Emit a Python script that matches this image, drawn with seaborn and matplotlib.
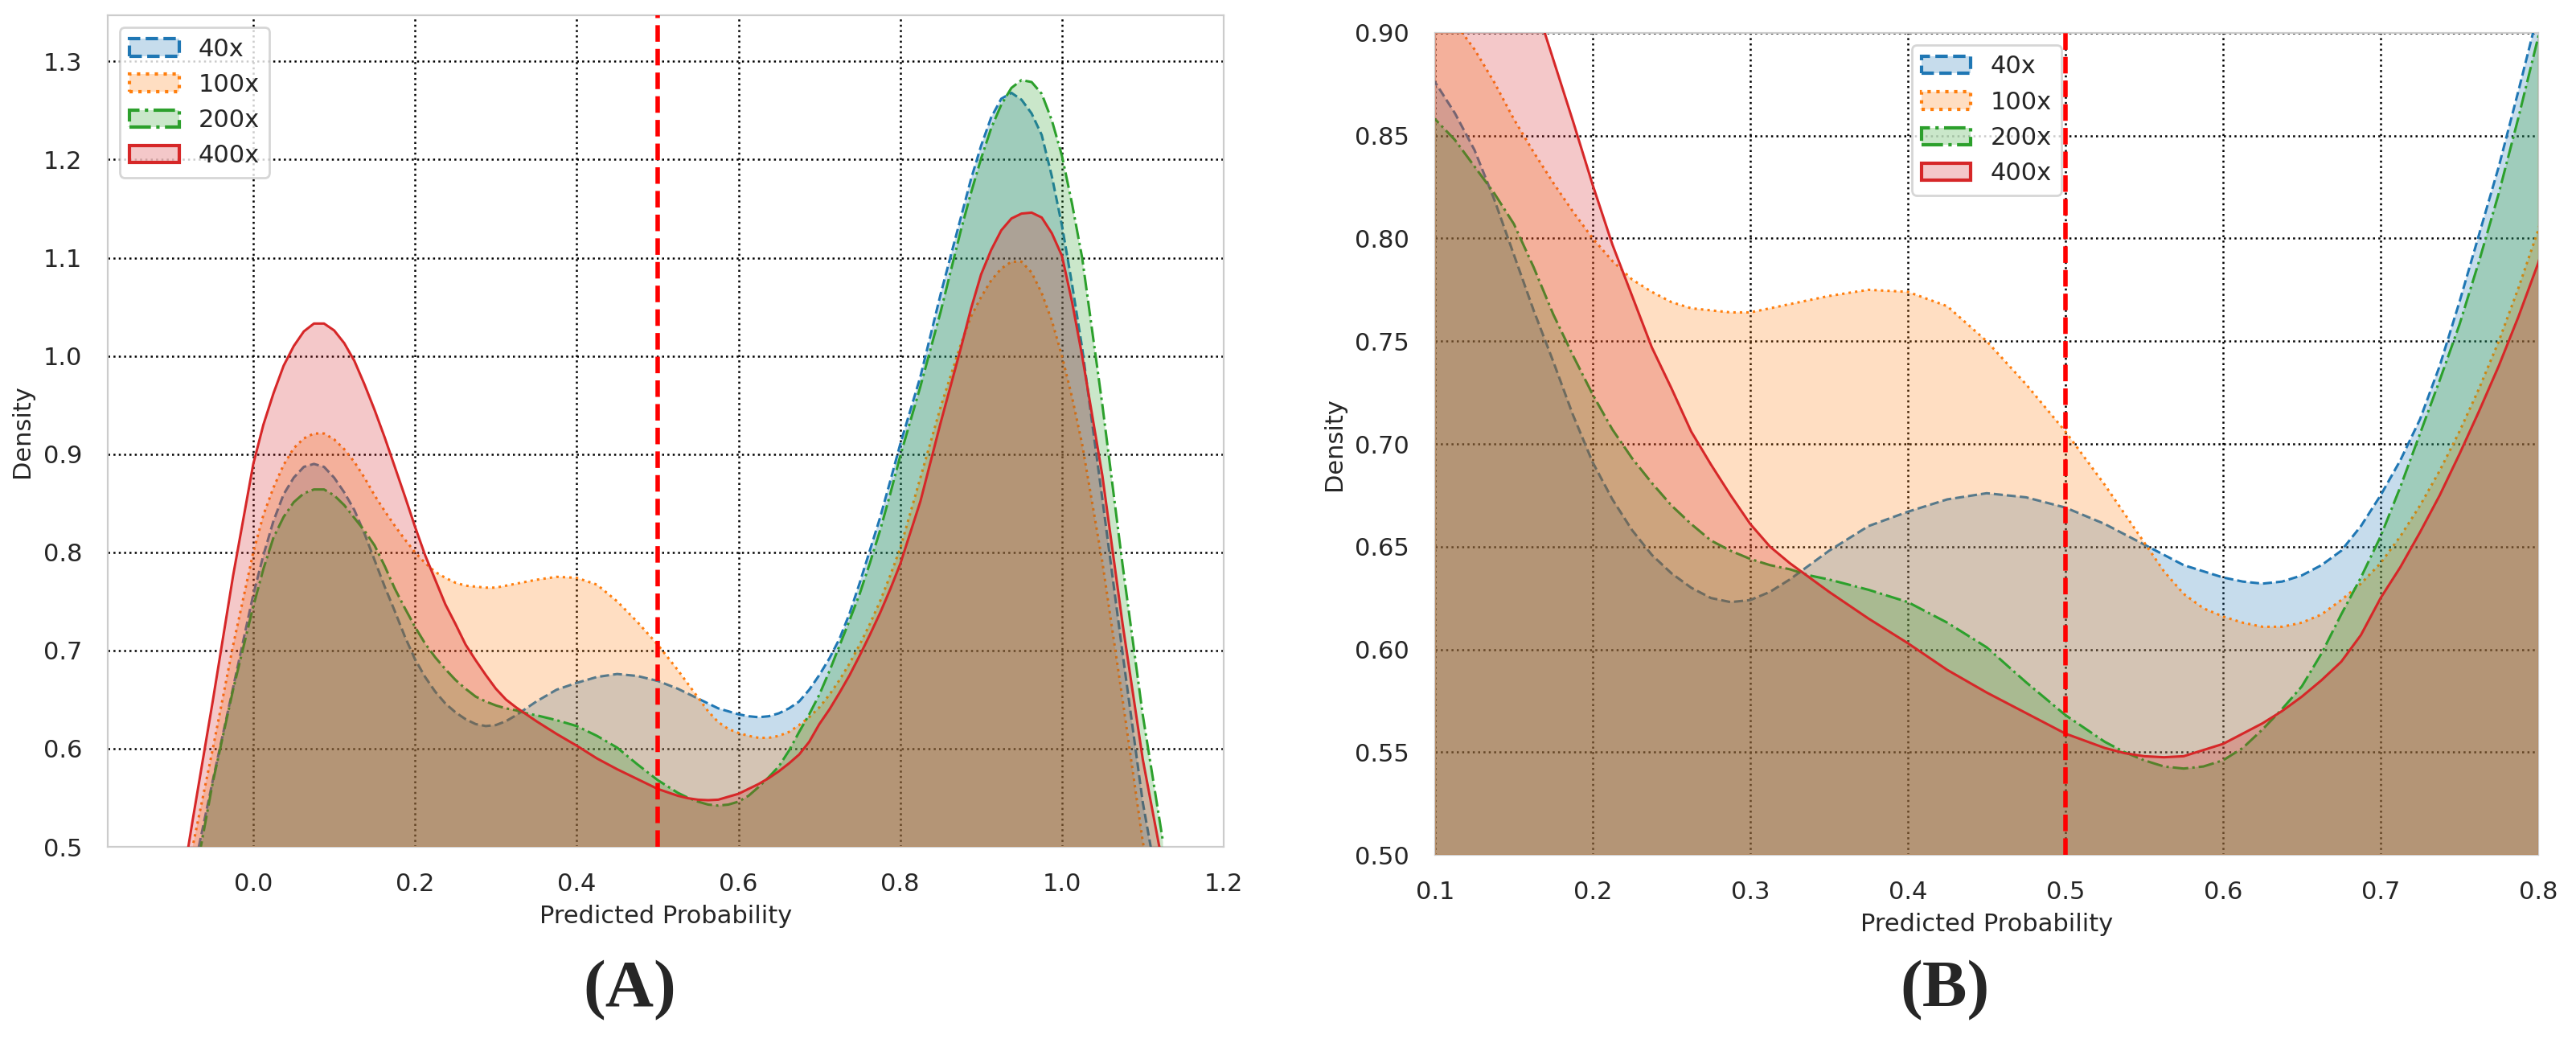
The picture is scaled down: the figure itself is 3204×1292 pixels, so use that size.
import matplotlib
matplotlib.use("Agg")
import matplotlib.pyplot as plt
import numpy as np
import pandas as pd
import seaborn as sns
from matplotlib.patches import Patch
from matplotlib.colors import to_rgba

# ---------------- data ----------------
prob = [-0.1, -0.075, -0.05, -0.025, 0.0, 0.0125, 0.025, 0.0375, 0.05, 0.0625,
        0.075, 0.0875, 0.1, 0.1125, 0.125, 0.1375, 0.15, 0.1625, 0.175, 0.1875,
        0.2, 0.2125, 0.225, 0.2375, 0.25, 0.2625, 0.275, 0.2875, 0.3, 0.3125,
        0.325, 0.3375, 0.35, 0.375, 0.4, 0.425, 0.45, 0.475, 0.5, 0.525,
        0.5375, 0.55, 0.5625, 0.575, 0.5875, 0.6, 0.6125, 0.625, 0.6375, 0.65,
        0.6625, 0.675, 0.6875, 0.7, 0.7125, 0.725, 0.7375, 0.75, 0.7625, 0.775,
        0.7875, 0.8, 0.825, 0.85, 0.875, 0.8875, 0.9, 0.9125, 0.925, 0.9375,
        0.95, 0.9625, 0.975, 0.9875, 1.0, 1.0125, 1.025, 1.05, 1.075, 1.1,
        1.125]

dens_40x = [0.37, 0.47, 0.568, 0.662, 0.757, 0.797, 0.832, 0.859, 0.876, 0.887,
            0.890, 0.887, 0.876, 0.861, 0.843, 0.819, 0.792, 0.765, 0.740, 0.714,
            0.691, 0.673, 0.658, 0.646, 0.637, 0.630, 0.625, 0.623, 0.624, 0.628,
            0.634, 0.641, 0.648, 0.660, 0.667, 0.673, 0.676, 0.674, 0.669, 0.661,
            0.656, 0.651, 0.646, 0.641, 0.638, 0.635, 0.633, 0.632, 0.633, 0.636,
            0.641, 0.648, 0.660, 0.675, 0.692, 0.712, 0.738, 0.769, 0.802, 0.835,
            0.872, 0.910, 0.979, 1.063, 1.141, 1.180, 1.214, 1.243, 1.262, 1.268,
            1.261, 1.247, 1.225, 1.183, 1.133, 1.073, 1.008, 0.854, 0.697, 0.545,
            0.43]

dens_100x = [0.40, 0.50, 0.60, 0.705, 0.80, 0.838, 0.866, 0.889, 0.906, 0.916,
             0.921, 0.921, 0.915, 0.905, 0.892, 0.876, 0.858, 0.842, 0.827, 0.813,
             0.800, 0.789, 0.780, 0.774, 0.769, 0.766, 0.765, 0.764, 0.764, 0.766,
             0.768, 0.770, 0.772, 0.775, 0.774, 0.767, 0.750, 0.729, 0.706, 0.680,
             0.666, 0.652, 0.638, 0.627, 0.620, 0.616, 0.613, 0.611, 0.611, 0.613,
             0.617, 0.624, 0.632, 0.642, 0.655, 0.670, 0.687, 0.706, 0.727, 0.750,
             0.776, 0.804, 0.876, 0.948, 1.012, 1.040, 1.060, 1.077, 1.089, 1.096,
             1.096, 1.085, 1.064, 1.036, 1.000, 0.958, 0.910, 0.790, 0.650, 0.505,
             0.40]

dens_200x = [0.36, 0.455, 0.566, 0.660, 0.745, 0.783, 0.815, 0.836, 0.851, 0.860,
             0.864, 0.864, 0.858, 0.848, 0.835, 0.822, 0.807, 0.786, 0.763, 0.743,
             0.724, 0.707, 0.693, 0.681, 0.670, 0.661, 0.653, 0.648, 0.644, 0.641,
             0.639, 0.636, 0.634, 0.629, 0.623, 0.613, 0.601, 0.584, 0.568, 0.555,
             0.550, 0.546, 0.543, 0.542, 0.543, 0.546, 0.552, 0.561, 0.571, 0.582,
             0.598, 0.617, 0.635, 0.655, 0.679, 0.705, 0.731, 0.758, 0.789, 0.822,
             0.859, 0.898, 0.969, 1.045, 1.128, 1.166, 1.201, 1.232, 1.256, 1.273,
             1.281, 1.279, 1.267, 1.240, 1.204, 1.155, 1.100, 0.950, 0.787, 0.634,
             0.505]

dens_400x = [0.40, 0.527, 0.649, 0.776, 0.890, 0.930, 0.962, 0.990, 1.010, 1.025,
             1.033, 1.033, 1.026, 1.013, 0.995, 0.971, 0.945, 0.917, 0.887, 0.857,
             0.826, 0.797, 0.772, 0.747, 0.727, 0.706, 0.690, 0.675, 0.661, 0.650,
             0.642, 0.635, 0.628, 0.615, 0.603, 0.590, 0.579, 0.569, 0.559, 0.552,
             0.5495, 0.548, 0.5475, 0.548, 0.551, 0.554, 0.559, 0.564, 0.570, 0.577,
             0.585, 0.594, 0.607, 0.625, 0.640, 0.657, 0.675, 0.695, 0.716, 0.738,
             0.762, 0.788, 0.852, 0.932, 1.008, 1.048, 1.083, 1.108, 1.128, 1.140,
             1.145, 1.146, 1.141, 1.125, 1.102, 1.055, 1.000, 0.878, 0.727, 0.589,
             0.48]

series_labels = ["40x", "100x", "200x", "400x"]
series_values = [dens_40x, dens_100x, dens_200x, dens_400x]
threshold = 0.5

xticks_a = [0.0, 0.2, 0.4, 0.6, 0.8, 1.0, 1.2]
yticks_a = [0.5, 0.6, 0.7, 0.8, 0.9, 1.0, 1.1, 1.2, 1.3]
xticks_b = [0.1, 0.2, 0.3, 0.4, 0.5, 0.6, 0.7, 0.8]
yticks_b = [0.50, 0.55, 0.60, 0.65, 0.70, 0.75, 0.80, 0.85, 0.90]

for v in series_values:
    assert len(v) == len(prob)

# ---------------- styling ----------------
sns.set_style("whitegrid", {"grid.linestyle": ":", "grid.color": "black",
                            "axes.edgecolor": ".8"})
plt.rcParams["font.family"] = ["DejaVu Sans"]
plt.rcParams["grid.linewidth"] = 0.9

palette = sns.color_palette("tab10")[:4]
line_styles = ["--", ":", "-.", "-"]

df = pd.concat([pd.DataFrame({"prob": prob, "density": v, "mag": lab})
                for lab, v in zip(series_labels, series_values)],
               ignore_index=True)

fig = plt.figure(figsize=(16.02, 6.46), dpi=200)
ax_a = fig.add_axes([0.04182, 0.18498, 0.43321, 0.80031])
ax_b = fig.add_axes([0.55712, 0.17724, 0.42821, 0.79103])


def draw_panel(ax, xlim, ylim, xticks, yticks, legend_loc, yfmt):
    for i, (lab, c, ls) in enumerate(zip(series_labels, palette, line_styles)):
        sub = df[df["mag"] == lab]
        ax.fill_between(sub["prob"], sub["density"], 0,
                        facecolor=to_rgba(c, 0.25), edgecolor="none",
                        zorder=2 + 2 * i)
        sns.lineplot(data=sub, x="prob", y="density", ax=ax, color=c,
                     linestyle=ls, linewidth=1.1, legend=False,
                     estimator=None, sort=True, zorder=3 + 2 * i)
    ax.axvline(threshold, color="red", linestyle="--", linewidth=2.0, zorder=20)
    ax.set_xlim(*xlim)
    ax.set_ylim(*ylim)
    ax.set_xticks(xticks)
    ax.set_yticks(yticks)
    ax.set_xticklabels([f"{t:.1f}" for t in xticks])
    ax.set_yticklabels([yfmt.format(t) for t in yticks])
    ax.tick_params(axis="both", labelsize=11, pad=8, colors=".15")
    ax.set_xlabel("Predicted Probability", fontsize=11, color=".15")
    ax.set_ylabel("Density", fontsize=11, color=".15")
    handles = [Patch(facecolor=to_rgba(c, 0.25), edgecolor=c, linestyle=ls,
                     linewidth=1.5, label=lab)
               for lab, c, ls in zip(series_labels, palette, line_styles)]
    ax.legend(handles=handles, loc=legend_loc, fontsize=11)


draw_panel(ax_a, (-0.18, 1.2), (0.5, 1.347), xticks_a, yticks_a,
           "upper left", "{:.1f}")
draw_panel(ax_b, (0.1, 0.8), (0.5, 0.9), xticks_b, yticks_b,
           "upper center", "{:.2f}")

fig.text(0.2444, 0.0464, "(A)", ha="center", va="center", fontsize=30,
         fontweight="bold", family=["Liberation Serif", "DejaVu Serif"])
fig.text(0.755, 0.0464, "(B)", ha="center", va="center", fontsize=30,
         fontweight="bold", family=["Liberation Serif", "DejaVu Serif"])

fig.savefig("out.png", dpi=200)
